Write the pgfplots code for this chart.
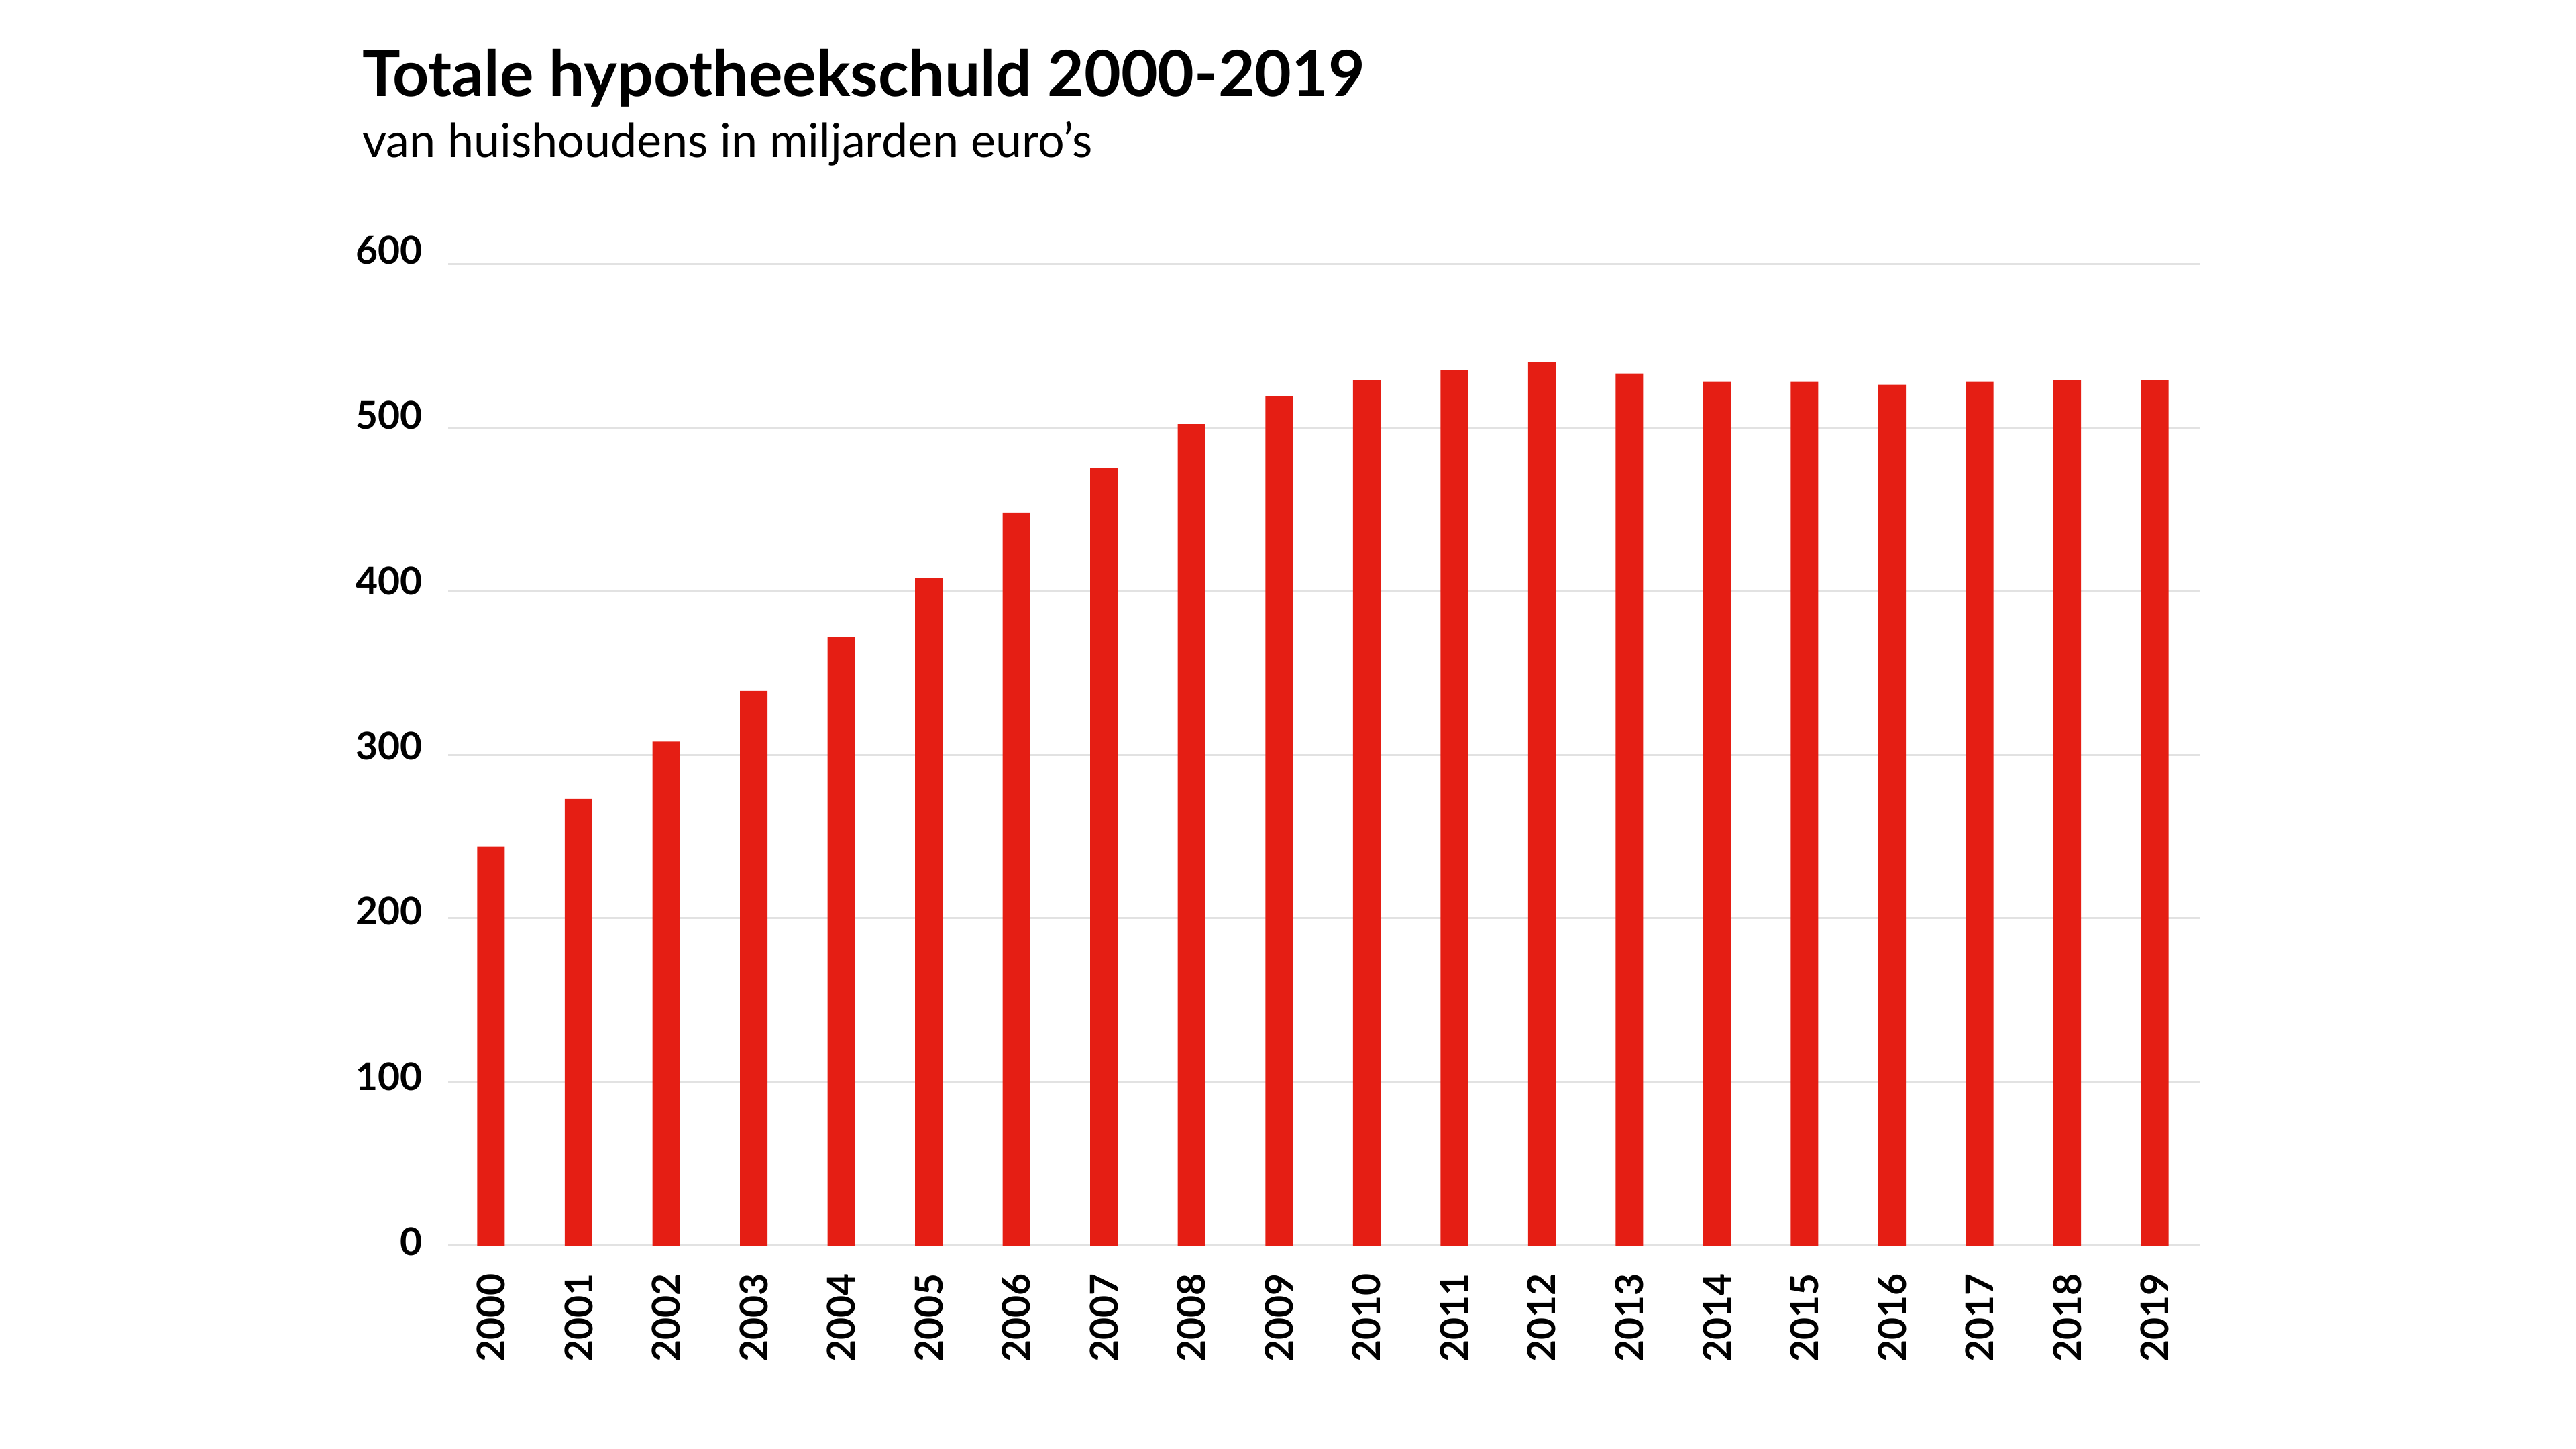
\documentclass[border=0pt]{standalone}
\usepackage{pgfplots}
\pgfplotsset{compat=1.18}
\usepackage{fontspec}
\setmainfont{Lato}
\definecolor{barred}{HTML}{E51E14}
\definecolor{gridgray}{HTML}{E2E2E2}
\begin{document}
\begin{tikzpicture}
\path[use as bounding box] (0,0) rectangle (384pt,-216pt);
\node[anchor=base west, inner sep=0pt, font=\fontsize{9.45pt}{10pt}\selectfont\bfseries] at (53.8pt,-14.4pt) {Totale hypotheekschuld 2000-2019};
\node[anchor=base west, inner sep=0pt, font=\fontsize{7pt}{8pt}\selectfont] at (53.8pt,-23.5pt) {van huishoudens in miljarden euro’s};
\begin{axis}[
  at={(66.8pt,-185.7pt)}, anchor=south west,
  scale only axis, width=261.2pt, height=146.4pt,
  xmin=-0.49, xmax=19.52, ymin=0, ymax=600,
  axis line style={draw=none},
  major tick length=0pt,
  ymajorgrids, grid style={gridgray, line width=0.3pt},
  ytick={0,100,...,600},
  xtick=data,
  xticklabels={2000,2001,2002,2003,2004,2005,2006,2007,2008,2009,2010,2011,2012,2013,2014,2015,2016,2017,2018,2019},
  /pgf/number format/assume math mode=true,
  yticklabel style={font=\fontsize{5.7pt}{6pt}\selectfont\bfseries, anchor=east, inner sep=0pt, yshift={0.6pt+0.24pt*\ticknum}},
  yticklabel shift=3.6pt,
  xticklabel style={font=\fontsize{5.7pt}{6pt}\selectfont\bfseries, rotate=90, anchor=east, inner sep=0pt},
  xticklabel shift=3.9pt,
  ybar, bar width=0.314, bar shift=0pt,
]
\addplot[fill=barred, draw=none] coordinates {
  (0,244) (1,273) (2,308) (3,339) (4,372) (5,408) (6,448) (7,475) (8,502) (9,519)
  (10,529) (11,535) (12,540) (13,533) (14,528) (15,528) (16,526) (17,528) (18,529) (19,529)
};
\end{axis}
\end{tikzpicture}
\end{document}
